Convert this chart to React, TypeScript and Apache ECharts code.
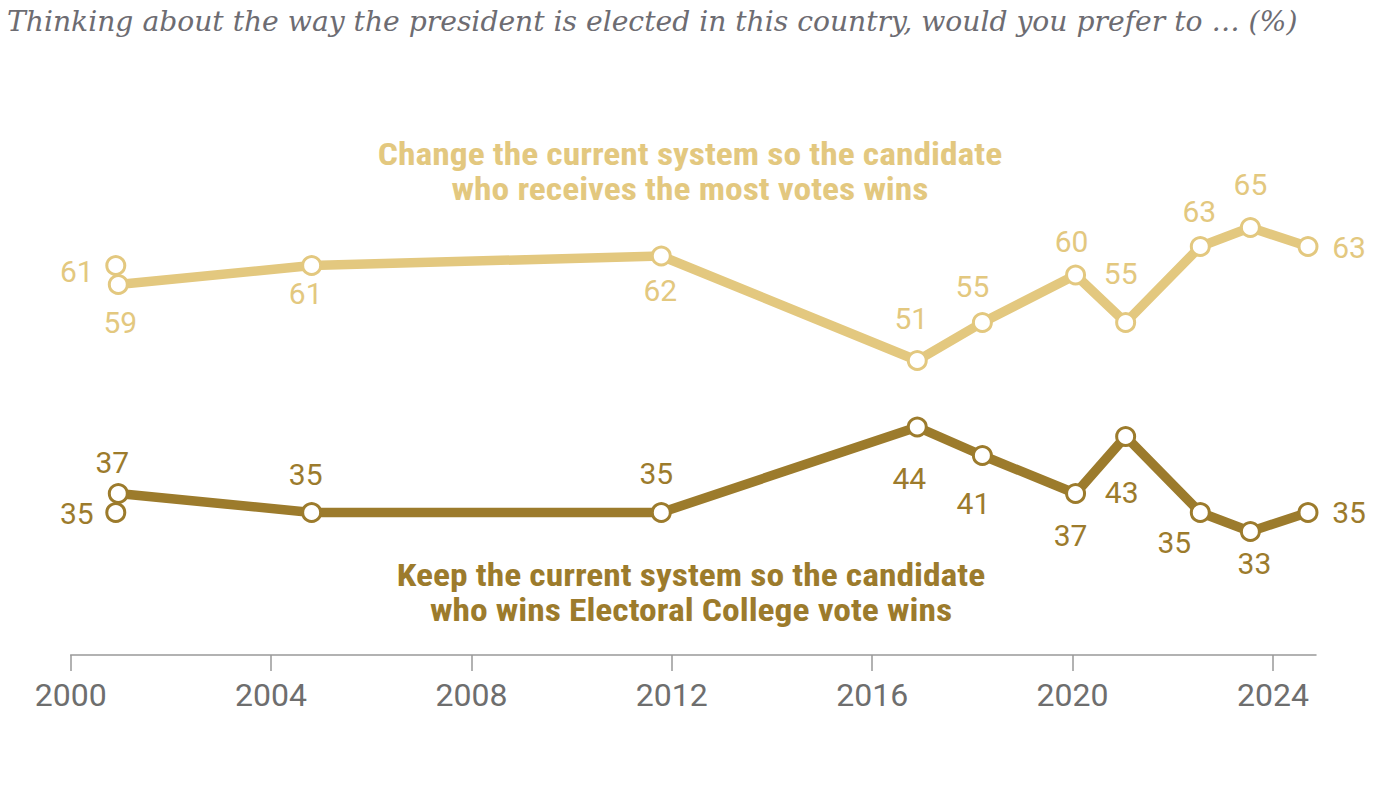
import React, { useEffect, useRef } from "react";
import * as echarts from "echarts";

// Survey dates (decimal years) and shares (%)
const surveyDates = [2000.9, 2000.95, 2004.81, 2011.79, 2016.9, 2018.2, 2020.06, 2021.06, 2022.55, 2023.55, 2024.7];
const changeSystem = [61, 59, 61, 62, 51, 55, 60, 55, 63, 65, 63];
const keepSystem = [35, 37, 35, 35, 44, 41, 37, 43, 35, 33, 35];
const tickYears = [2000, 2004, 2008, 2012, 2016, 2020, 2024];

const titleText = "Thinking about the way the president is elected in this country, would you prefer to \u2026 (%)";
const changeLabel = "Change the current system so the candidate\nwho receives the most votes wins";
const keepLabel = "Keep the current system so the candidate\nwho wins Electoral College vote wins";

// Placement of each value label relative to its point, in pixels
const changeLabelOffsets: [number, number][] = [
  [-39, 6], [2, 38], [-6, 28], [-1, 34], [-6, -42], [-10, -36], [-4, -34], [-5, -49], [-1, -35], [0, -43], [41, 1],
];
const keepLabelOffsets: [number, number][] = [
  [-39, 1], [-6, -31], [-6, -38], [-5, -39], [-8, 51], [-9, 48], [-5, 42], [-4, 56], [-26, 30], [4, 32], [41, 0],
];

const LIGHT = "#e3c87f";
const DARK = "#9c7b2c";
const NUM_FONT = "Roboto, 'Liberation Sans', sans-serif";
const BOLD_FONT = "'Liberation Sans Narrow', 'Roboto Condensed', Roboto, sans-serif";

function buildData(values: number[], offsets: [number, number][]) {
  const out: any[] = [];
  values.forEach((v, i) => {
    // the first two surveys sit side by side; keep them unconnected
    if (i === 1) out.push({ value: [(surveyDates[0] + surveyDates[1]) / 2, "-"] });
    out.push({
      value: [surveyDates[i], v],
      label: { offset: offsets[i] },
    });
  });
  return out;
}

function lineSeries(name: string, color: string, values: number[], offsets: [number, number][]) {
  return {
    name,
    type: "line",
    data: buildData(values, offsets),
    connectNulls: false,
    symbol: "circle",
    symbolSize: 18,
    lineStyle: { color, width: 9.5 },
    itemStyle: { color: "#ffffff", borderColor: color, borderWidth: 3 },
    label: {
      show: true,
      position: "inside",
      formatter: (p: any) => String(p.value[1]),
      color,
      fontFamily: NUM_FONT,
      fontSize: 30,
    },
    emphasis: { disabled: true },
    z: 3,
  };
}

function annotation(text: string, color: string, x: number, y: number) {
  return {
    type: "text",
    x,
    y,
    scaleX: 1.11,
    style: {
      text,
      fill: color,
      font: "bold 32px " + BOLD_FONT,
      align: "center",
      verticalAlign: "middle",
      lineHeight: 35,
    },
  };
}

export default function App() {
  const ref = useRef<HTMLDivElement>(null);

  useEffect(() => {
    if (!ref.current) return;
    const chart = echarts.init(ref.current, null, { renderer: "svg" });
    chart.setOption({
      animation: false,
      backgroundColor: "#ffffff",
      grid: { left: 70.7, right: 84, top: 85, bottom: 134, containLabel: false },
      xAxis: {
        type: "value",
        min: 2000,
        max: 2024.86,
        interval: 4,
        splitLine: { show: false },
        axisLine: { show: true, lineStyle: { color: "#999999", width: 1.5 } },
        axisTick: { show: true, length: 16, customValues: tickYears, lineStyle: { color: "#999999", width: 1.5 } },
        axisLabel: {
          customValues: tickYears,
          margin: 24,
          color: "#6e6e6e",
          fontFamily: NUM_FONT,
          fontSize: 32,
          formatter: (v: number) => String(Math.round(v)),
        },
      },
      yAxis: { type: "value", min: 20, max: 80, show: false, splitLine: { show: false } },
      graphic: [
        {
          type: "text",
          left: 7,
          top: 7,
          style: {
            text: titleText,
            fill: "#6d6c72",
            font: "italic 28.2px 'DejaVu Serif', Georgia, serif",
          },
        },
        annotation(changeLabel, LIGHT, 690, 172),
        annotation(keepLabel, DARK, 691, 593),
      ],
      series: [
        lineSeries("Change", LIGHT, changeSystem, changeLabelOffsets),
        lineSeries("Keep", DARK, keepSystem, keepLabelOffsets),
      ],
    });
    return () => chart.dispose();
  }, []);

  return (
    <div
      ref={ref}
      style={{ position: "fixed", left: 0, top: 0, width: 1400, height: 789, background: "#fff" }}
    />
  );
}
